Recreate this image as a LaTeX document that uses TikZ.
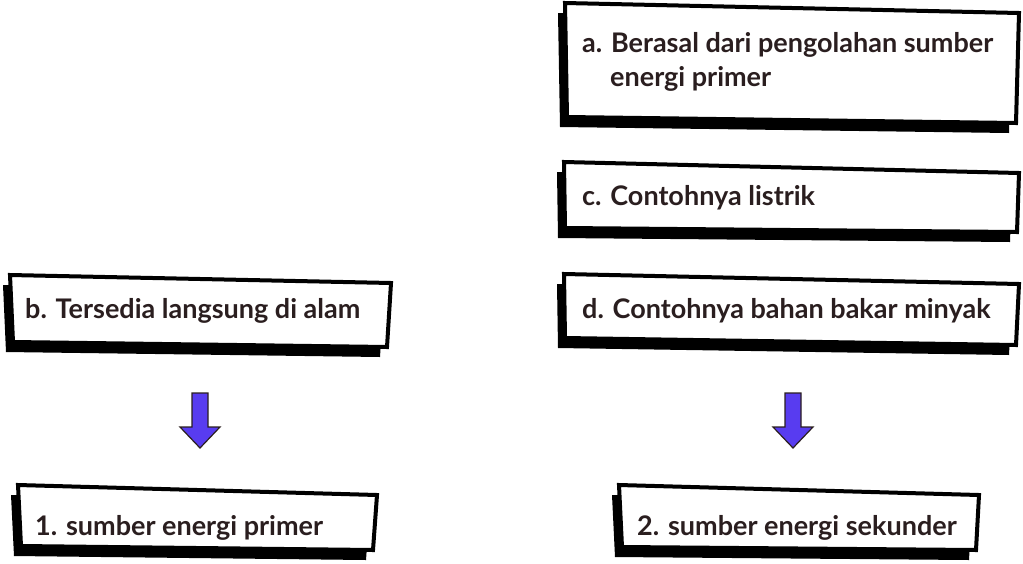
\documentclass[tikz,border=0pt]{standalone}
\usepackage{fontspec}
\setmainfont{Lato}
\usetikzlibrary{calc, positioning}

\definecolor{inkdark}{RGB}{42,30,31}
\definecolor{arrowblue}{RGB}{88,60,240}

\tikzset{
  boxshadow/.style={fill=black, draw=none},
  boxface/.style={fill=white, draw=black, line width=4pt, line join=miter},
  boxtext/.style={anchor=base west, inner sep=0pt, text=inkdark, font=\bfseries\fontsize{27}{32}\selectfont},
  blockarrow/.style={fill=arrowblue, draw=inkdark, line width=1.2pt, line join=miter}
}

% skewed box with a shadow to the lower left: #1 TL, #2 TR, #3 BR, #4 BL
\newcommand{\skewbox}[4]{
  \fill[boxshadow] ($#1+(-7,10)$) -- ($#2+(-7,10)$) -- ($#3+(-7,10)$) -- ($#4+(-7,10)$) -- cycle;
  \draw[boxface] #1 -- #2 -- #3 -- #4 -- cycle;
}

\begin{document}
\begin{tikzpicture}[x=1pt, y=-1pt]

\useasboundingbox (0,0) rectangle (1023,563);

% Right column
\skewbox{(565,3)}{(1019,13)}{(1016,123)}{(567,117)}
\node[boxtext] (a1) at (582,52) {a. Berasal dari pengolahan sumber};
\node[boxtext] (a2) at (610,86) {energi primer};

\skewbox{(564,162)}{(1019,173)}{(1017,232)}{(565,228)}
\node[boxtext] (c) at (582,205) {c. Contohnya listrik};

\skewbox{(564,274)}{(1019,284)}{(1016,345)}{(565,338)}
\node[boxtext] (d) at (582,318) {d. Contohnya bahan bakar minyak};

% Left column
\skewbox{(10,275)}{(391,283)}{(387,347)}{(13,342)}
\node[boxtext] (b) at (25,318) {b. Tersedia langsung di alam};

% Arrows
\foreach \x in {200,793} {
  \draw[blockarrow] (\x-8,393) -- (\x+8,393) -- (\x+8,427) -- (\x+20,427)
    -- (\x,448) -- (\x-20,427) -- (\x-8,427) -- cycle;
}

% Results
\skewbox{(18,485)}{(377,495)}{(373,550)}{(21,546)}
\node[boxtext] (one) at (35,535) {1. sumber energi primer};

\skewbox{(619,485)}{(979,495)}{(976,550)}{(622,547)}
\node[boxtext] (two) at (637,535) {2. sumber energi sekunder};

\end{tikzpicture}
\end{document}
